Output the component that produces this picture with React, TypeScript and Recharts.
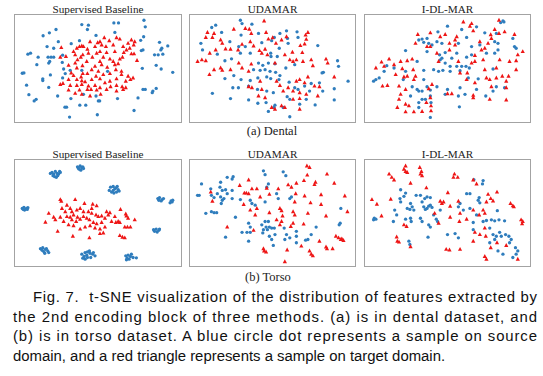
import React from 'react';
import { ScatterChart, Scatter, XAxis, YAxis } from 'recharts';

type Pt = [number, number];

// t-SNE embeddings (arbitrary units, y grows downward)
const dentalBaselineBlue: Pt[] = [
  [128,107],[147,98],[167,88],[245,73],[265,75],[262,88],[342,68],[356,68],[433,60],[437,80],
  [345,97],[288,106],[238,122],[423,121],[432,110],[174,125],[213,131],[140,140],[160,145],[480,127],
  [487,145],[505,138],[484,150],[430,150],[425,152],[82,163],[90,160],[113,172],[143,172],[152,172],
  [160,172],[187,166],[465,165],[476,165],[490,163],[145,190],[148,185],[186,188],[109,195],[470,197],
  [485,208],[428,206],[65,221],[70,220],[127,238],[127,243],[150,226],[187,235],[210,212],[520,218],
  [78,257],[145,264],[172,290],[212,298],[250,285],[288,290],[430,270],[437,270],[460,275],[470,267],
  [458,280],[85,286],[107,300],[101,305],[194,324],[199,324],[239,318],[257,318],[295,305],[299,305],
  [353,298],[415,296],[403,334],[208,354],[292,347],[245,212],[323,215],[195,222],[190,208],
];
const dentalBaselineRed: Pt[] = [
  [313,113],[350,113],[360,117],[328,122],[293,128],[300,125],[395,120],[405,125],[385,130],[402,135],
  [270,125],[238,140],[245,138],[250,140],[230,145],[183,143],[262,148],[285,140],[305,135],[318,140],
  [340,135],[370,140],[380,150],[390,145],[220,155],[225,165],[265,160],[290,160],[300,155],[320,158],
  [345,155],[372,158],[395,162],[403,162],[248,165],[197,170],[242,172],[277,172],[310,172],[330,178],
  [360,178],[368,172],[412,182],[232,180],[260,185],[300,185],[340,185],[225,190],[180,172],[205,197],
  [247,198],[285,200],[305,195],[322,203],[345,195],[355,192],[275,210],[295,215],[348,210],[230,205],
  [365,215],[213,220],[220,228],[248,222],[262,222],[288,230],[310,225],[330,222],[365,225],[385,230],
  [243,232],[205,240],[230,240],[245,244],[255,247],[275,240],[300,238],[330,245],[350,238],[378,245],
  [392,240],[400,235],[315,250],[180,255],[188,252],[210,258],[230,258],[245,255],[265,260],[285,258],
  [300,265],[332,262],[350,258],[367,262],[205,272],[238,272],[262,270],[290,272],[320,270],[350,275],
  [370,270],[378,265],[273,270],[225,282],[245,285],[270,290],[302,285],
];

const dentalUdaBlue: Pt[] = [
  [105,75],[93,82],[180,60],[185,70],[215,72],[123,97],[182,105],[235,100],[300,100],[320,92],
  [283,112],[352,95],[355,112],[323,115],[60,130],[65,150],[148,125],[175,140],[195,140],[245,128],
  [275,122],[325,130],[298,145],[415,137],[110,163],[133,183],[153,177],[180,160],[210,160],[272,160],
  [273,170],[292,170],[235,190],[248,197],[265,190],[285,192],[318,205],[220,210],[240,212],[255,210],
  [270,215],[287,218],[300,228],[345,195],[432,218],[428,220],[475,183],[478,200],[160,228],[182,240],
  [210,243],[233,235],[260,232],[272,237],[297,240],[328,248],[345,265],[355,270],[375,260],[395,252],
  [420,250],[390,275],[430,275],[133,237],[95,282],[157,265],[174,265],[205,260],[232,270],[260,275],
  [280,280],[322,292],[330,300],[465,268],[507,245],[150,298],[205,302],[233,312],[258,310],[285,318],
  [282,325],[310,325],[360,315],[380,300],[407,317],[465,302],[265,337],[330,353],
];
const dentalUdaRed: Pt[] = [
  [80,97],[100,100],[75,112],[95,112],[160,87],[195,85],[207,87],[213,100],[252,62],[258,97],
  [278,113],[265,117],[385,97],[378,105],[288,130],[305,120],[320,110],[362,137],[375,132],[380,118],
  [120,120],[125,130],[105,150],[135,147],[150,148],[173,150],[185,133],[210,125],[220,138],[238,152],
  [245,160],[255,148],[262,165],[315,165],[338,157],[368,158],[87,160],[63,180],[50,185],[75,183],
  [100,210],[120,205],[125,212],[86,225],[150,210],[175,190],[185,205],[205,215],[213,193],[285,190],
  [330,180],[340,185],[350,180],[370,185],[395,180],[400,198],[440,178],[445,190],[290,245],[240,245],
  [205,262],[215,265],[245,270],[300,258],[325,265],[350,245],[360,240],[375,250],[385,232],[405,260],
  [420,262],[465,232],[310,275],[340,275],[360,280],[380,285],[415,290],[360,298],[340,300],[235,290],
  [255,295],[275,325],[285,330],[315,325],[360,330],[305,320],
];

const dentalOursBlue: Pt[] = [
  [430,62],[423,67],[433,65],[262,78],[305,88],[350,80],[233,95],[375,98],[410,100],[320,112],
  [175,120],[185,117],[200,115],[190,127],[205,130],[215,135],[230,125],[245,130],[405,125],[415,130],
  [460,115],[465,140],[470,145],[135,152],[295,130],[335,140],[360,135],[405,160],[415,150],[200,155],
  [238,165],[255,158],[275,175],[290,160],[320,172],[335,165],[380,160],[170,185],[240,180],[245,175],
  [255,190],[270,200],[290,200],[305,200],[318,200],[328,205],[300,213],[220,210],[235,215],[248,212],
  [190,212],[270,215],[325,235],[355,238],[400,208],[78,198],[100,205],[70,215],[55,235],[45,240],
  [38,245],[135,215],[128,240],[190,240],[155,262],[170,270],[175,275],[185,275],[200,262],[210,272],
  [230,262],[262,270],[255,285],[300,265],[295,290],[315,285],[350,270],[378,290],[400,275],[410,262],
  [435,265],[150,290],[175,310],[185,300],[195,300],[210,290],[212,310],[175,325],[298,323],[210,355],
];
const dentalOursRed: Pt[] = [
  [310,65],[335,70],[330,78],[340,92],[418,60],[405,88],[418,100],[435,95],[393,104],[255,103],
  [172,103],[210,98],[290,110],[285,120],[240,110],[395,115],[385,130],[375,145],[360,125],[465,103],
  [490,155],[268,130],[285,135],[200,140],[210,140],[165,130],[365,150],[475,165],[268,150],[230,160],
  [345,167],[470,183],[62,187],[85,178],[100,195],[120,185],[140,183],[155,178],[45,205],[70,200],
  [235,185],[295,185],[345,185],[335,190],[370,180],[420,180],[450,185],[125,207],[158,210],[300,220],
  [322,220],[375,210],[410,205],[470,210],[165,230],[140,230],[160,240],[105,225],[130,232],[320,240],
  [380,235],[390,240],[410,235],[428,230],[440,245],[447,230],[65,260],[80,258],[115,260],[135,270],
  [205,268],[215,255],[262,283],[275,283],[345,250],[395,262],[440,265],[120,285],[115,300],[210,295],
  [340,295],[340,288],[390,300],[440,302],[135,315],[145,320],[110,325],[212,320],[212,335],[135,338],
  [160,338],[185,337],[198,310],
];

const torsoBaselineBlue: Pt[] = [
  [155,95],[160,100],[165,92],[170,98],[175,100],[180,95],[163,108],[158,105],[172,105],[168,110],
  [150,98],[178,92],[232,78],[240,75],[245,80],[237,85],[248,78],[242,88],[235,82],[250,83],
  [332,140],[340,138],[348,142],[355,148],[340,150],[350,155],[335,155],[345,145],[358,152],[328,150],
  [352,138],[342,158],[475,175],[480,172],[488,178],[492,175],[485,182],[478,180],[515,182],[518,185],
  [512,188],[520,180],[65,205],[70,202],[78,205],[82,203],[72,210],[68,208],[80,208],[462,270],
  [470,268],[478,272],[473,277],[465,275],[480,268],[120,328],[127,325],[135,330],[142,335],[130,337],
  [125,333],[138,328],[145,340],[133,342],[245,345],[255,340],[262,338],[270,342],[278,345],[285,350],
  [252,352],[262,355],[272,355],[260,348],[268,335],[248,357],[280,340],[255,360],[378,350],[385,348],
  [392,352],[400,355],[410,356],[388,360],[380,362],[395,345],[382,357],
];
const torsoBaselineRed: Pt[] = [
  [180,178],[183,183],[225,178],[253,190],[278,192],[290,197],[185,205],[200,195],[210,205],[215,215],
  [220,225],[230,210],[240,205],[250,215],[265,215],[275,220],[288,225],[295,230],[305,228],[320,215],
  [325,225],[345,230],[355,245],[362,208],[378,222],[380,228],[385,235],[145,220],[160,232],[135,247],
  [180,232],[190,245],[200,230],[210,232],[215,240],[228,245],[240,238],[250,230],[260,235],[268,240],
  [280,248],[290,252],[305,248],[315,235],[335,245],[348,248],[360,248],[405,240],[205,255],[220,258],
  [240,268],[255,262],[270,258],[285,265],[300,268],[315,262],[172,275],[375,262],[383,262],[392,262],
  [218,290],[268,295],[300,282],[310,280],[360,288],[368,293],[375,295],[165,240],[195,215],[232,232],
  [275,205],[330,218],
];

const torsoUdaBlue: Pt[] = [
  [62,130],[50,165],[55,165],[90,145],[92,165],[100,172],[120,125],[118,140],[125,150],[110,160],
  [120,170],[125,180],[122,190],[130,175],[140,110],[155,115],[158,108],[135,148],[140,160],[155,150],
  [155,175],[180,178],[210,180],[250,90],[255,102],[265,130],[260,140],[290,160],[295,175],[310,93],
  [318,105],[330,175],[335,170],[215,190],[225,195],[255,185],[75,220],[92,215],[100,218],[108,218],
  [165,232],[205,250],[210,262],[200,278],[185,278],[210,278],[245,255],[250,270],[258,262],[268,262],
  [262,270],[275,265],[283,265],[248,280],[268,290],[285,285],[255,245],[265,245],[313,265],[320,285],
  [330,295],[315,300],[350,275],[350,290],[378,302],[385,300],[395,285],[410,262],[480,255],[483,250],
  [485,205],[135,293],[205,305],[275,300],[280,318],[350,310],
];
const torsoUdaRed: Pt[] = [
  [382,75],[390,80],[383,103],[443,100],[465,128],[408,125],[405,132],[373,120],[350,128],[325,133],
  [335,140],[215,145],[178,135],[205,118],[230,145],[260,143],[268,162],[240,170],[295,145],[348,160],
  [345,185],[375,167],[425,163],[497,167],[505,215],[440,228],[393,188],[385,220],[425,193],[192,158],
  [198,158],[205,160],[90,155],[95,183],[190,193],[210,210],[230,205],[225,225],[268,218],[300,205],
  [305,212],[308,228],[340,215],[345,225],[340,250],[333,260],[305,245],[140,262],[220,272],[290,240],
  [372,253],[470,290],[478,295],[485,300],[493,303],[488,298],[440,323],[443,328],[460,328],[420,305],
  [250,328],[252,335],[258,338],[322,332],[390,335],[395,345],[400,350],[315,368],[365,320],[300,255],
];

const torsoOursBlue: Pt[] = [
  [120,148],[135,158],[130,168],[118,175],[167,165],[180,165],[193,175],[200,170],[210,172],[205,198],
  [210,195],[215,202],[200,205],[195,208],[190,200],[185,185],[150,190],[155,200],[148,208],[140,205],
  [120,185],[102,210],[108,225],[98,245],[40,235],[45,238],[38,240],[135,238],[150,235],[152,245],
  [180,235],[185,245],[205,255],[210,262],[220,225],[228,238],[232,245],[160,210],[203,293],[145,305],
  [148,315],[240,210],[262,285],[285,282],[295,295],[320,160],[330,160],[358,172],[355,180],[360,188],
  [342,117],[370,120],[368,130],[295,200],[300,190],[310,210],[330,205],[340,248],[350,225],[340,270],
  [370,245],[380,242],[395,240],[405,243],[418,240],[435,243],[413,212],[390,265],[400,285],[410,290],
  [405,300],[420,278],[425,290],[438,285],[448,290],[455,300],[450,310],[468,325],[475,335],[430,345],
  [415,335],[470,345],[460,355],[390,310],
];
const torsoOursRed: Pt[] = [
  [135,75],[130,85],[135,92],[140,95],[85,100],[93,110],[100,118],[178,80],[183,92],[180,100],
  [185,105],[283,100],[280,110],[293,110],[340,118],[350,130],[150,128],[198,142],[263,157],[385,162],
  [412,155],[33,178],[48,192],[62,228],[90,177],[240,183],[250,185],[245,190],[295,183],[270,198],
  [393,175],[400,182],[380,185],[453,190],[460,197],[463,200],[223,220],[270,232],[300,220],[320,238],
  [298,245],[340,210],[370,210],[375,220],[358,225],[130,255],[138,260],[490,245],[488,252],[485,240],
  [108,292],[110,305],[115,308],[150,322],[258,330],[268,332],[345,278],[375,265],[360,285],[378,290],
  [340,305],[440,318],[412,310],[375,352],[380,360],[393,325],[475,360],[300,330],[235,250],
];

const titles = ['Supervised Baseline', 'UDAMAR', 'I-DL-MAR'];
const subCaptions = ['(a) Dental', '(b) Torso'];
const captionLines = [
  'Fig. 7.  t-SNE visualization of the distribution of features extracted by',
  'the 2nd encoding block of three methods. (a) is in dental dataset, and',
  '(b) is in torso dataset. A blue circle dot represents a sample on source',
  'domain, and a red triangle represents a sample on target domain.',
];

const BLUE = '#2f7dbd';
const RED = '#ee1515';

const toRows = (pts: Pt[]) => pts.map(([x, y]) => ({ x, y }));

const Dot = (p: any) => <circle cx={p.cx} cy={p.cy} r={1.65} fill={BLUE} />;
const Tri = (p: any) => (
  <polygon
    points={`${p.cx},${p.cy - 2.4} ${p.cx - 2.1},${p.cy + 1.5} ${p.cx + 2.1},${p.cy + 1.5}`}
    fill={RED}
  />
);

interface PanelProps {
  left: number;
  top: number;
  width: number;
  height: number;
  xDom: [number, number];
  yDom: [number, number];
  blue: Pt[];
  red: Pt[];
}

const Panel: React.FC<PanelProps> = ({ left, top, width, height, xDom, yDom, blue, red }) => (
  <div
    style={{
      position: 'absolute',
      left,
      top,
      width,
      height,
      border: '1px solid #a3a3a3',
      boxSizing: 'border-box',
    }}
  >
    <ScatterChart width={width - 2} height={height - 2} margin={{ top: 0, right: 0, bottom: 0, left: 0 }}>
      <XAxis type="number" dataKey="x" domain={xDom} hide allowDataOverflow />
      <YAxis type="number" dataKey="y" domain={yDom} reversed hide allowDataOverflow />
      <Scatter data={toRows(blue)} shape={Dot} isAnimationActive={false} />
      <Scatter data={toRows(red)} shape={Tri} isAnimationActive={false} />
    </ScatterChart>
  </div>
);

const cols = [
  { left: 14, width: 168, x: [43, 545] as [number, number] },
  { left: 189, width: 167, x: [27, 528] as [number, number] },
  { left: 364, width: 167, x: [12, 512] as [number, number] },
];

export default function App() {
  const rows = [
    { top: 14, height: 109, y: [44, 369] as [number, number], titleY: 12.5, sets: [
      [dentalBaselineBlue, dentalBaselineRed], [dentalUdaBlue, dentalUdaRed], [dentalOursBlue, dentalOursRed]] },
    { top: 159, height: 108, y: [57, 381] as [number, number], titleY: 157.5, sets: [
      [torsoBaselineBlue, torsoBaselineRed], [torsoUdaBlue, torsoUdaRed], [torsoOursBlue, torsoOursRed]] },
  ];

  return (
    <div style={{ position: 'absolute', left: 0, top: 0, width: 543, height: 376, background: '#fff' }}>
      {rows.map((r, ri) =>
        cols.map((c, ci) => (
          <Panel
            key={`${ri}-${ci}`}
            left={c.left}
            top={r.top}
            width={c.width}
            height={r.height}
            xDom={c.x}
            yDom={r.y}
            blue={r.sets[ci][0]}
            red={r.sets[ci][1]}
          />
        ))
      )}
      <svg width={543} height={376} style={{ position: 'absolute', left: 0, top: 0, pointerEvents: 'none' }}>
        {rows.map((r, ri) =>
          cols.map((c, ci) => (
            <text
              key={`t${ri}-${ci}`}
              x={c.left + c.width / 2}
              y={r.titleY}
              textAnchor="middle"
              fontFamily="'Liberation Serif', serif"
              fontSize={11.2}
              fill="#222"
            >
              {titles[ci]}
            </text>
          ))
        )}
        <text x={272} y={135} textAnchor="middle" fontFamily="'Liberation Serif', serif" fontSize={12.5} fill="#222">
          {subCaptions[0]}
        </text>
        <text x={268} y={281} textAnchor="middle" fontFamily="'Liberation Serif', serif" fontSize={12.5} fill="#222">
          {subCaptions[1]}
        </text>
        {captionLines.map((line, i) => (
          <text
            key={`c${i}`}
            x={i === 0 ? 33 : 13}
            y={302 + i * 19.5}
            fontFamily="'Liberation Sans', Arial, sans-serif"
            fontSize={14.9}
            fill="#111"
            xmlSpace="preserve"
            {...(i < 3 ? { textLength: i === 0 ? 504 : 524, lengthAdjust: 'spacing' } : {})}
          >
            {line}
          </text>
        ))}
      </svg>
    </div>
  );
}
